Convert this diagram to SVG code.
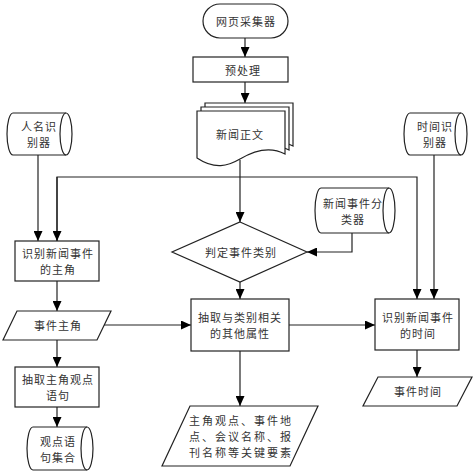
<svg xmlns="http://www.w3.org/2000/svg" width="474" height="472" viewBox="0 0 474 472">
<defs>
<marker id="ah" markerUnits="userSpaceOnUse" markerWidth="10" markerHeight="9" refX="10" refY="4.5" orient="auto">
<path d="M0,0 L10,4.5 L0,9 Z" fill="#000"/>
</marker>
<style>
.s{fill:#fff;stroke:#222;stroke-width:1.2}
.c{fill:none;stroke:#222;stroke-width:1.2}
.t{font-family:"Noto Sans CJK SC","Noto Sans",sans-serif;font-size:11px;letter-spacing:1px;fill:#333;text-anchor:middle;dominant-baseline:central}
.b{font-size:11px;letter-spacing:2px}
</style>
</defs>
<rect width="474" height="472" fill="#fff"/>
<g id="connectors">
<path class="c" d="M245,38 V57" marker-end="url(#ah)"/>
<path class="c" d="M245,82 V103" marker-end="url(#ah)"/>
<path class="c" d="M240,160 V222" marker-end="url(#ah)"/>
<path class="c" d="M57,241 V177 H417 V299" marker-end="url(#ah)"/>
<path class="c" d="M57,177 V241" marker-end="url(#ah)"/>
<path class="c" d="M38,155 V241" marker-end="url(#ah)"/>
<path class="c" d="M434,155 V299" marker-end="url(#ah)"/>
<path class="c" d="M352,233 V252 H307" marker-end="url(#ah)"/>
<path class="c" d="M240,282 V299" marker-end="url(#ah)"/>
<path class="c" d="M57,281 V311" marker-end="url(#ah)"/>
<path class="c" d="M104,325 H191" marker-end="url(#ah)"/>
<path class="c" d="M289,325 H375" marker-end="url(#ah)"/>
<path class="c" d="M417,350 V377" marker-end="url(#ah)"/>
<path class="c" d="M240,351 V406" marker-end="url(#ah)"/>
<path class="c" d="M57,340 V367" marker-end="url(#ah)"/>
<path class="c" d="M57,407 V427" marker-end="url(#ah)"/>
</g>
<g id="n_collector">
<rect class="s" x="203" y="4" width="85" height="34" rx="17"/>
<text class="t" x="246" y="21">网页采集器</text>
</g>
<g id="n_preprocess">
<rect class="s" x="193" y="57" width="95" height="25"/>
<text class="t" x="243" y="70">预处理</text>
</g>
<g id="n_newsdoc">
<path class="s" d="M205,103 H293 V146 C278,138 263,142 248,151 C236,158 223,162 205,150 Z"/>
<path class="s" d="M201,107 H289 V150 C274,142 259,146 244,155 C232,162 219,166 201,154 Z"/>
<path class="s" d="M197,111 H285 V154 C270,146 255,150 240,159 C228,166 215,170 197,158 Z"/>
<text class="t" x="240" y="134">新闻正文</text>
</g>
<g id="n_person_rec">
<path class="s" d="M13,113 H66 A6,21 0 0 1 66,155 H13 A6,21 0 0 1 13,113 Z"/>
<path class="c" d="M66,113 A6,21 0 0 0 66,155"/>
<text class="t" x="39" y="126">人名识</text>
<text class="t" x="39" y="142">别器</text>
</g>
<g id="n_time_rec">
<path class="s" d="M410,113 H461 A6,21 0 0 1 461,155 H410 A6,21 0 0 1 410,113 Z"/>
<path class="c" d="M461,113 A6,21 0 0 0 461,155"/>
<text class="t" x="435" y="126">时间识</text>
<text class="t" x="435" y="142">别器</text>
</g>
<g id="n_classifier">
<path class="s" d="M321,188 H389 A6,22.5 0 0 1 389,233 H321 A6,22.5 0 0 1 321,188 Z"/>
<path class="c" d="M389,188 A6,22.5 0 0 0 389,233"/>
<text class="t" x="353" y="203">新闻事件分</text>
<text class="t" x="353" y="219">类器</text>
</g>
<g id="n_decide">
<polygon class="s" points="240,222 307,252 240,282 172,252"/>
<text class="t" x="241" y="252">判定事件类别</text>
</g>
<g id="n_find_person">
<rect class="s" x="15" y="241" width="84" height="40"/>
<text class="t" x="58" y="253">识别新闻事件</text>
<text class="t" x="58" y="269">的主角</text>
</g>
<g id="n_person">
<polygon class="s" points="17,311 111,311 97,340 3,340"/>
<text class="t" x="58" y="325">事件主角</text>
</g>
<g id="n_extract_attr">
<rect class="s" x="191" y="299" width="98" height="52"/>
<text class="t" x="240" y="317">抽取与类别相关</text>
<text class="t" x="240" y="333">的其他属性</text>
</g>
<g id="n_find_time">
<rect class="s" x="375" y="299" width="84" height="51"/>
<text class="t" x="418" y="316.5">识别新闻事件</text>
<text class="t" x="418" y="332.5">的时间</text>
</g>
<g id="n_time">
<polygon class="s" points="378,377 472,377 457,406 363,406"/>
<text class="t" x="418" y="391">事件时间</text>
</g>
<g id="n_extract_view">
<rect class="s" x="15" y="367" width="84" height="40"/>
<text class="t" x="58" y="379">抽取主角观点</text>
<text class="t" x="58" y="395">语句</text>
</g>
<g id="n_view_set">
<path class="s" d="M33,427 H87 A6,21.5 0 0 1 87,470 H33 A6,21.5 0 0 1 33,427 Z"/>
<path class="c" d="M87,427 A6,21.5 0 0 0 87,470"/>
<text class="t" x="58" y="441">观点语</text>
<text class="t" x="58" y="457">句集合</text>
</g>
<g id="n_elements">
<polygon class="s" points="190,406 318,406 290,466 162,466"/>
<text class="t b" x="241" y="420">主角观点、事件地</text>
<text class="t b" x="241" y="436">点、会议名称、报</text>
<text class="t b" x="241" y="452">刊名称等关键要素</text>
</g>
</svg>
